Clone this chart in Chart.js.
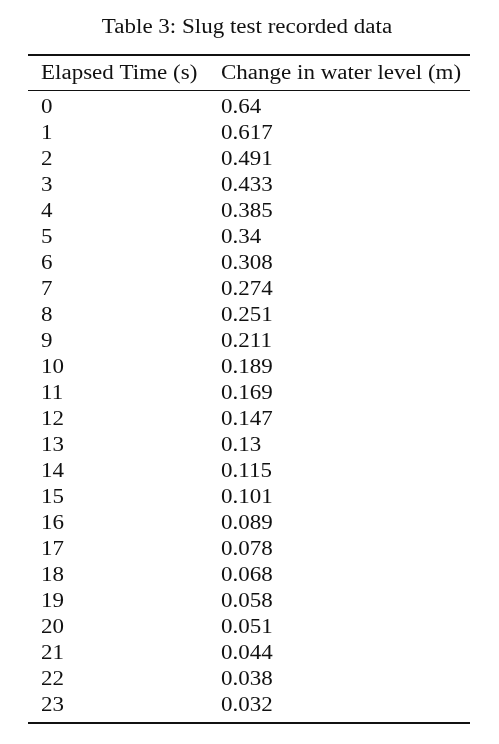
<!DOCTYPE html>
<html>
<head>
<meta charset="utf-8">
<script src="https://cdn.jsdelivr.net/npm/chart.js@4"></script>
<style>
  html, body { margin: 0; padding: 0; background: #fff; }
  #wrap { width: 499px; height: 744px; }
</style>
</head>
<body>
<div id="wrap"><canvas id="tbl"></canvas></div>
<script>
// Table data
const title = 'Table 3: Slug test recorded data';
const headers = ['Elapsed Time (s)', 'Change in water level (m)'];
const elapsed = [0, 1, 2, 3, 4, 5, 6, 7, 8, 9, 10, 11, 12, 13, 14, 15, 16, 17, 18, 19, 20, 21, 22, 23];
const level = ['0.64', '0.617', '0.491', '0.433', '0.385', '0.34', '0.308', '0.274', '0.251', '0.211',
  '0.189', '0.169', '0.147', '0.13', '0.115', '0.101', '0.089', '0.078', '0.068', '0.058',
  '0.051', '0.044', '0.038', '0.032'];

// layout (in scale units: x = pixels, y = row index)
const colX = [41, 221];
const FONT = '20px "Liberation Serif", "DejaVu Serif", serif';
const STRETCH = 1.15; // Computer Modern is wider than Times

const cells = [];
elapsed.forEach((t, i) => {
  cells.push({ x: colX[0], y: i, text: String(t) });
  cells.push({ x: colX[1], y: i, text: level[i] });
});

const tablePlugin = {
  id: 'tableText',
  afterDatasetsDraw(chart) {
    const { ctx, scales: { x, y } } = chart;
    ctx.save();
    ctx.fillStyle = '#111';
    ctx.font = FONT;
    ctx.textBaseline = 'middle';
    const txt = (s, px, py, align) => {
      ctx.save();
      ctx.textAlign = align || 'left';
      ctx.translate(px, py);
      ctx.scale(STRETCH, 1);
      ctx.fillText(s, 0, 0);
      ctx.restore();
    };
    // title
    txt(title, x.getPixelForValue(247), y.getPixelForValue(-3.08), 'center');
    // header
    headers.forEach((h, i) => txt(h, x.getPixelForValue(colX[i]), y.getPixelForValue(-1.31)));
    // cells
    const pts = chart.getDatasetMeta(0).data;
    pts.forEach((p, i) => txt(cells[i].text, p.x, p.y));
    // rules
    const rule = (v, w) => {
      ctx.fillRect(x.getPixelForValue(28), Math.round(y.getPixelForValue(v) - w / 2), x.getPixelForValue(470) - x.getPixelForValue(28), w);
    };
    rule(-2.04, 2);
    rule(-0.69, 1);
    rule(23.65, 2);
    ctx.restore();
  }
};

new Chart(document.getElementById('tbl'), {
  type: 'scatter',
  data: { datasets: [{ data: cells.map(c => ({ x: c.x, y: c.y })), pointRadius: 0 }] },
  options: {
    responsive: true,
    maintainAspectRatio: false,
    animation: false,
    layout: { padding: 0 },
    plugins: { legend: { display: false }, tooltip: { enabled: false } },
    scales: {
      x: { type: 'linear', min: 0, max: 499, display: false },
      y: { type: 'linear', min: -108 / 26, max: -108 / 26 + 744 / 26, reverse: true, display: false }
    }
  },
  plugins: [tablePlugin]
});
</script>
</body>
</html>
